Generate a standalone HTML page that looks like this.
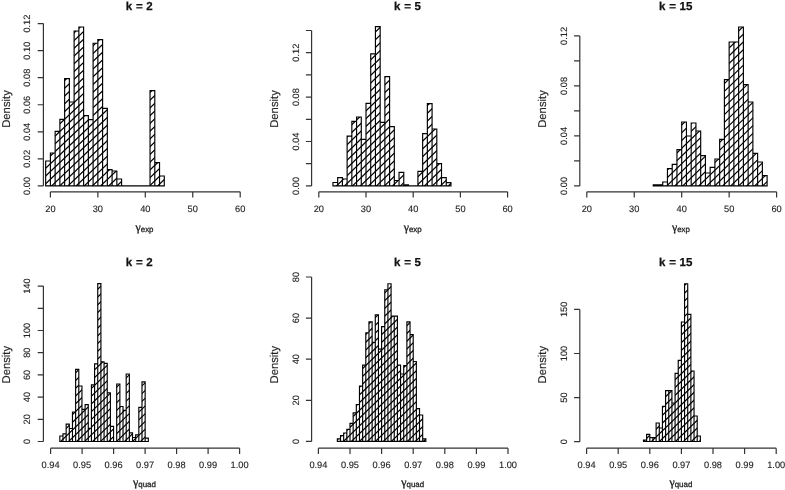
<!DOCTYPE html>
<html><head><meta charset="utf-8"><title>Histograms</title>
<style>
html,body{margin:0;padding:0;background:#fff;}
svg{display:block;}
#all{filter:blur(0.3px);}
text{font-family:"Liberation Sans",sans-serif;fill:#222;text-rendering:geometricPrecision;}
.t{font-size:9.25px;fill:#222;stroke:#222;stroke-width:0.12px;}
.l{font-size:11.3px;stroke:#222;stroke-width:0.15px;}
.ti{font-size:11.5px;font-weight:bold;fill:#111;stroke:#111;stroke-width:0.25px;word-spacing:0.5px;}
.g{font-family:"Liberation Serif",serif;font-size:11.865000000000002px;stroke-width:0.3px;}
.s{font-size:7.91px;stroke-width:0.28px;}
</style></head><body>
<svg width="785" height="490" viewBox="0 0 785 490">
<rect width="785" height="490" fill="#fff"/>
<defs><clipPath id="c0"><rect x="45.66" y="161.00" width="4.74" height="24.90"/><rect x="50.40" y="153.00" width="4.74" height="32.90"/><rect x="55.14" y="131.40" width="4.75" height="54.50"/><rect x="59.89" y="119.40" width="4.74" height="66.50"/><rect x="64.63" y="78.60" width="4.75" height="107.30"/><rect x="69.38" y="102.00" width="4.75" height="83.90"/><rect x="74.12" y="31.00" width="4.75" height="154.90"/><rect x="78.87" y="27.00" width="4.75" height="158.90"/><rect x="83.62" y="115.60" width="4.74" height="70.30"/><rect x="88.36" y="119.60" width="4.74" height="66.30"/><rect x="93.10" y="43.20" width="4.75" height="142.70"/><rect x="97.85" y="39.60" width="4.75" height="146.30"/><rect x="102.59" y="108.40" width="4.75" height="77.50"/><rect x="107.34" y="169.60" width="4.75" height="16.30"/><rect x="112.09" y="171.00" width="4.75" height="14.90"/><rect x="116.83" y="179.00" width="4.74" height="6.90"/><rect x="150.04" y="90.60" width="4.75" height="95.30"/><rect x="154.79" y="162.60" width="4.75" height="23.30"/><rect x="159.53" y="176.00" width="4.75" height="9.90"/></clipPath><clipPath id="c1"><rect x="332.96" y="182.45" width="4.72" height="3.45"/><rect x="337.68" y="177.56" width="4.72" height="8.34"/><rect x="342.40" y="179.01" width="4.72" height="6.89"/><rect x="347.12" y="136.05" width="4.72" height="49.85"/><rect x="351.84" y="121.40" width="4.72" height="64.50"/><rect x="356.56" y="116.96" width="4.72" height="68.94"/><rect x="361.28" y="139.38" width="4.72" height="46.52"/><rect x="366.00" y="103.42" width="4.72" height="82.48"/><rect x="370.72" y="53.91" width="4.72" height="131.99"/><rect x="375.44" y="26.60" width="4.72" height="159.30"/><rect x="380.16" y="122.40" width="4.72" height="63.50"/><rect x="384.88" y="76.55" width="4.72" height="109.35"/><rect x="389.60" y="126.62" width="4.72" height="59.28"/><rect x="394.32" y="180.45" width="4.72" height="5.45"/><rect x="399.04" y="172.40" width="4.72" height="13.50"/><rect x="403.76" y="184.89" width="4.72" height="1.01"/><rect x="417.92" y="171.35" width="4.72" height="14.55"/><rect x="422.64" y="133.61" width="4.72" height="52.29"/><rect x="427.36" y="103.64" width="4.72" height="82.26"/><rect x="432.08" y="128.95" width="4.72" height="56.95"/><rect x="436.80" y="163.58" width="4.72" height="22.32"/><rect x="441.52" y="177.56" width="4.72" height="8.34"/><rect x="446.24" y="182.67" width="4.72" height="3.23"/></clipPath><clipPath id="c2"><rect x="653.23" y="184.75" width="4.74" height="1.15"/><rect x="657.97" y="184.75" width="4.75" height="1.15"/><rect x="662.72" y="182.00" width="4.75" height="3.90"/><rect x="667.46" y="168.62" width="4.75" height="17.28"/><rect x="672.21" y="164.38" width="4.75" height="21.53"/><rect x="676.95" y="149.62" width="4.75" height="36.28"/><rect x="681.70" y="122.00" width="4.75" height="63.90"/><rect x="686.44" y="136.00" width="4.75" height="49.90"/><rect x="691.19" y="123.00" width="4.75" height="62.90"/><rect x="695.93" y="131.00" width="4.75" height="54.90"/><rect x="700.68" y="155.62" width="4.75" height="30.28"/><rect x="705.42" y="173.00" width="4.75" height="12.90"/><rect x="710.17" y="167.38" width="4.75" height="18.53"/><rect x="714.91" y="159.00" width="4.75" height="26.90"/><rect x="719.66" y="139.38" width="4.75" height="46.53"/><rect x="724.40" y="79.62" width="4.75" height="106.28"/><rect x="729.15" y="42.00" width="4.75" height="143.90"/><rect x="733.89" y="42.00" width="4.75" height="143.90"/><rect x="738.64" y="27.00" width="4.75" height="158.90"/><rect x="743.38" y="84.62" width="4.75" height="101.28"/><rect x="748.13" y="102.00" width="4.75" height="83.90"/><rect x="752.88" y="153.38" width="4.74" height="32.53"/><rect x="757.62" y="162.00" width="4.75" height="23.90"/><rect x="762.37" y="175.62" width="4.74" height="10.28"/></clipPath><clipPath id="c3"><rect x="59.83" y="435.95" width="3.16" height="5.55"/><rect x="62.99" y="433.84" width="3.16" height="7.66"/><rect x="66.15" y="424.07" width="3.16" height="17.43"/><rect x="69.31" y="428.51" width="3.16" height="12.99"/><rect x="72.47" y="411.97" width="3.16" height="29.53"/><rect x="75.63" y="369.35" width="3.16" height="72.15"/><rect x="78.79" y="386.00" width="3.16" height="55.50"/><rect x="81.95" y="409.31" width="3.16" height="32.19"/><rect x="85.11" y="404.65" width="3.16" height="36.85"/><rect x="88.27" y="428.40" width="3.16" height="13.10"/><rect x="91.43" y="384.89" width="3.16" height="56.61"/><rect x="94.59" y="363.91" width="3.16" height="77.59"/><rect x="97.75" y="283.66" width="3.16" height="157.84"/><rect x="100.91" y="361.91" width="3.16" height="79.59"/><rect x="104.07" y="363.36" width="3.16" height="78.14"/><rect x="107.23" y="392.88" width="3.16" height="48.62"/><rect x="110.39" y="426.40" width="3.16" height="15.10"/><rect x="116.71" y="384.00" width="3.16" height="57.50"/><rect x="119.87" y="406.54" width="3.16" height="34.96"/><rect x="123.03" y="410.42" width="3.16" height="31.08"/><rect x="126.19" y="374.01" width="3.16" height="67.49"/><rect x="129.35" y="432.84" width="3.16" height="8.66"/><rect x="132.51" y="437.50" width="3.16" height="4.00"/><rect x="135.67" y="434.84" width="3.16" height="6.66"/><rect x="138.83" y="407.42" width="3.16" height="34.08"/><rect x="141.99" y="381.89" width="3.16" height="59.61"/><rect x="145.15" y="438.17" width="3.16" height="3.33"/></clipPath><clipPath id="c4"><rect x="337.36" y="438.94" width="3.16" height="2.46"/><rect x="340.52" y="435.66" width="3.16" height="5.74"/><rect x="343.68" y="433.00" width="3.16" height="8.40"/><rect x="346.84" y="429.30" width="3.16" height="12.10"/><rect x="350.00" y="423.36" width="3.16" height="18.04"/><rect x="353.16" y="412.90" width="3.16" height="28.50"/><rect x="356.32" y="404.50" width="3.16" height="36.90"/><rect x="359.48" y="386.05" width="3.16" height="55.35"/><rect x="362.64" y="365.14" width="3.16" height="76.26"/><rect x="365.80" y="332.75" width="3.16" height="108.65"/><rect x="368.96" y="321.88" width="3.16" height="119.51"/><rect x="372.12" y="342.38" width="3.16" height="99.01"/><rect x="375.28" y="314.71" width="3.16" height="126.69"/><rect x="378.44" y="349.15" width="3.16" height="92.25"/><rect x="381.60" y="326.60" width="3.16" height="114.80"/><rect x="384.76" y="289.70" width="3.16" height="151.70"/><rect x="387.92" y="283.75" width="3.16" height="157.64"/><rect x="391.08" y="316.14" width="3.16" height="125.25"/><rect x="394.24" y="316.14" width="3.16" height="125.25"/><rect x="397.40" y="365.14" width="3.16" height="76.26"/><rect x="400.56" y="373.95" width="3.16" height="67.44"/><rect x="403.72" y="365.55" width="3.16" height="75.85"/><rect x="406.88" y="321.88" width="3.16" height="119.51"/><rect x="410.04" y="334.59" width="3.16" height="106.81"/><rect x="413.20" y="361.45" width="3.16" height="79.95"/><rect x="416.36" y="408.60" width="3.16" height="32.80"/><rect x="419.52" y="414.95" width="3.16" height="26.44"/><rect x="422.68" y="438.94" width="3.16" height="2.46"/></clipPath><clipPath id="c5"><rect x="643.48" y="440.00" width="3.16" height="1.50"/><rect x="646.64" y="434.39" width="3.16" height="7.11"/><rect x="649.80" y="437.63" width="3.16" height="3.87"/><rect x="652.96" y="437.63" width="3.16" height="3.87"/><rect x="656.12" y="423.00" width="3.16" height="18.50"/><rect x="659.28" y="428.00" width="3.16" height="13.50"/><rect x="662.44" y="406.36" width="3.16" height="35.14"/><rect x="665.60" y="390.59" width="3.16" height="50.91"/><rect x="668.76" y="390.59" width="3.16" height="50.91"/><rect x="671.92" y="403.03" width="3.16" height="38.47"/><rect x="675.08" y="373.42" width="3.16" height="68.08"/><rect x="678.24" y="360.37" width="3.16" height="81.13"/><rect x="681.40" y="322.00" width="3.16" height="119.50"/><rect x="684.56" y="283.72" width="3.16" height="157.78"/><rect x="687.72" y="314.38" width="3.16" height="127.12"/><rect x="690.88" y="370.97" width="3.16" height="70.53"/><rect x="694.04" y="416.00" width="3.16" height="25.50"/><rect x="697.20" y="435.97" width="3.16" height="5.53"/></clipPath></defs>
<g id="all">
<g><path clip-path="url(#c0)" d="M43.66 22.98L166.28 -93.52M43.66 30.73L166.28 -85.77M43.66 38.48L166.28 -78.02M43.66 46.23L166.28 -70.27M43.66 53.98L166.28 -62.52M43.66 61.73L166.28 -54.77M43.66 69.48L166.28 -47.02M43.66 77.23L166.28 -39.27M43.66 84.98L166.28 -31.52M43.66 92.73L166.28 -23.77M43.66 100.48L166.28 -16.02M43.66 108.23L166.28 -8.27M43.66 115.98L166.28 -0.52M43.66 123.73L166.28 7.23M43.66 131.48L166.28 14.98M43.66 139.23L166.28 22.73M43.66 146.98L166.28 30.48M43.66 154.73L166.28 38.23M43.66 162.48L166.28 45.98M43.66 170.23L166.28 53.73M43.66 177.98L166.28 61.48M43.66 185.73L166.28 69.23M43.66 193.48L166.28 76.98M43.66 201.23L166.28 84.73M43.66 208.98L166.28 92.48M43.66 216.73L166.28 100.23M43.66 224.48L166.28 107.98M43.66 232.23L166.28 115.73M43.66 239.98L166.28 123.48M43.66 247.73L166.28 131.23M43.66 255.48L166.28 138.98M43.66 263.23L166.28 146.73M43.66 270.98L166.28 154.48M43.66 278.73L166.28 162.23M43.66 286.48L166.28 169.98M43.66 294.23L166.28 177.73M43.66 301.98L166.28 185.48M43.66 309.73L166.28 193.23" fill="none" stroke="#000" stroke-width="1.22"/><path d="M45.66 161.00h4.74v24.90h-4.74zM50.40 153.00h4.74v32.90h-4.74zM55.14 131.40h4.75v54.50h-4.75zM59.89 119.40h4.74v66.50h-4.74zM64.63 78.60h4.75v107.30h-4.75zM69.38 102.00h4.75v83.90h-4.75zM74.12 31.00h4.75v154.90h-4.75zM78.87 27.00h4.75v158.90h-4.75zM83.62 115.60h4.74v70.30h-4.74zM88.36 119.60h4.74v66.30h-4.74zM93.10 43.20h4.75v142.70h-4.75zM97.85 39.60h4.75v146.30h-4.75zM102.59 108.40h4.75v77.50h-4.75zM107.34 169.60h4.75v16.30h-4.75zM112.09 171.00h4.75v14.90h-4.75zM116.83 179.00h4.74v6.90h-4.74zM121.57 185.90h4.75v0.00h-4.75zM126.32 185.90h4.75v0.00h-4.75zM131.06 185.90h4.75v0.00h-4.75zM135.81 185.90h4.75v0.00h-4.75zM140.56 185.90h4.75v0.00h-4.75zM145.30 185.90h4.74v0.00h-4.74zM150.04 90.60h4.75v95.30h-4.75zM154.79 162.60h4.75v23.30h-4.75zM159.53 176.00h4.75v9.90h-4.75z" fill="none" stroke="#000" stroke-width="1.15"/><path d="M43.40 185.90V23.60M43.40 185.90h-5.70M43.40 158.85h-5.70M43.40 131.80h-5.70M43.40 104.75h-5.70M43.40 77.70h-5.70M43.40 50.65h-5.70M43.40 23.60h-5.70M50.40 191.80H240.20M50.40 191.80v5.70M97.85 191.80v5.70M145.30 191.80v5.70M192.75 191.80v5.70M240.20 191.80v5.70" fill="none" stroke="#333" stroke-width="1.20"/><text class="t" text-anchor="middle" transform="translate(30.30 185.90) rotate(-90)">0.00</text><text class="t" text-anchor="middle" transform="translate(30.30 158.85) rotate(-90)">0.02</text><text class="t" text-anchor="middle" transform="translate(30.30 131.80) rotate(-90)">0.04</text><text class="t" text-anchor="middle" transform="translate(30.30 104.75) rotate(-90)">0.06</text><text class="t" text-anchor="middle" transform="translate(30.30 77.70) rotate(-90)">0.08</text><text class="t" text-anchor="middle" transform="translate(30.30 50.65) rotate(-90)">0.10</text><text class="t" text-anchor="middle" transform="translate(30.30 23.60) rotate(-90)">0.12</text><text class="t" text-anchor="middle" x="50.40" y="211.80">20</text><text class="t" text-anchor="middle" x="97.85" y="211.80">30</text><text class="t" text-anchor="middle" x="145.30" y="211.80">40</text><text class="t" text-anchor="middle" x="192.75" y="211.80">50</text><text class="t" text-anchor="middle" x="240.20" y="211.80">60</text><text class="ti" text-anchor="middle" x="139.30" y="10.40">k = 2</text><text class="l" text-anchor="middle" transform="translate(9.80 109.00) rotate(-90)">Density</text><text class="l" text-anchor="middle" x="144.50" y="230.60"><tspan class="g">γ</tspan><tspan class="s" dy="1.6">exp</tspan></text></g>
<g><path clip-path="url(#c1)" d="M330.96 20.82L452.96 -97.52M330.96 28.57L452.96 -89.77M330.96 36.32L452.96 -82.02M330.96 44.07L452.96 -74.27M330.96 51.82L452.96 -66.52M330.96 59.57L452.96 -58.77M330.96 67.32L452.96 -51.02M330.96 75.07L452.96 -43.27M330.96 82.82L452.96 -35.52M330.96 90.57L452.96 -27.77M330.96 98.32L452.96 -20.02M330.96 106.07L452.96 -12.27M330.96 113.82L452.96 -4.52M330.96 121.57L452.96 3.23M330.96 129.32L452.96 10.98M330.96 137.07L452.96 18.73M330.96 144.82L452.96 26.48M330.96 152.57L452.96 34.23M330.96 160.32L452.96 41.98M330.96 168.07L452.96 49.73M330.96 175.82L452.96 57.48M330.96 183.57L452.96 65.23M330.96 191.32L452.96 72.98M330.96 199.07L452.96 80.73M330.96 206.82L452.96 88.48M330.96 214.57L452.96 96.23M330.96 222.32L452.96 103.98M330.96 230.07L452.96 111.73M330.96 237.82L452.96 119.48M330.96 245.57L452.96 127.23M330.96 253.32L452.96 134.98M330.96 261.07L452.96 142.73M330.96 268.82L452.96 150.48M330.96 276.57L452.96 158.23M330.96 284.32L452.96 165.98M330.96 292.07L452.96 173.73M330.96 299.82L452.96 181.48M330.96 307.57L452.96 189.23" fill="none" stroke="#000" stroke-width="1.22"/><path d="M332.96 182.45h4.72v3.45h-4.72zM337.68 177.56h4.72v8.34h-4.72zM342.40 179.01h4.72v6.89h-4.72zM347.12 136.05h4.72v49.85h-4.72zM351.84 121.40h4.72v64.50h-4.72zM356.56 116.96h4.72v68.94h-4.72zM361.28 139.38h4.72v46.52h-4.72zM366.00 103.42h4.72v82.48h-4.72zM370.72 53.91h4.72v131.99h-4.72zM375.44 26.60h4.72v159.30h-4.72zM380.16 122.40h4.72v63.50h-4.72zM384.88 76.55h4.72v109.35h-4.72zM389.60 126.62h4.72v59.28h-4.72zM394.32 180.45h4.72v5.45h-4.72zM399.04 172.40h4.72v13.50h-4.72zM403.76 184.89h4.72v1.01h-4.72zM408.48 185.90h4.72v0.00h-4.72zM413.20 185.90h4.72v0.00h-4.72zM417.92 171.35h4.72v14.55h-4.72zM422.64 133.61h4.72v52.29h-4.72zM427.36 103.64h4.72v82.26h-4.72zM432.08 128.95h4.72v56.95h-4.72zM436.80 163.58h4.72v22.32h-4.72zM441.52 177.56h4.72v8.34h-4.72zM446.24 182.67h4.72v3.23h-4.72z" fill="none" stroke="#000" stroke-width="1.15"/><path d="M311.60 185.90V30.50M311.60 185.90h-5.70M311.60 163.70h-5.70M311.60 141.50h-5.70M311.60 119.30h-5.70M311.60 97.10h-5.70M311.60 74.90h-5.70M311.60 52.70h-5.70M311.60 30.50h-5.70M318.80 191.80H507.60M318.80 191.80v5.70M366.00 191.80v5.70M413.20 191.80v5.70M460.40 191.80v5.70M507.60 191.80v5.70" fill="none" stroke="#333" stroke-width="1.20"/><text class="t" text-anchor="middle" transform="translate(298.50 185.90) rotate(-90)">0.00</text><text class="t" text-anchor="middle" transform="translate(298.50 141.50) rotate(-90)">0.04</text><text class="t" text-anchor="middle" transform="translate(298.50 97.10) rotate(-90)">0.08</text><text class="t" text-anchor="middle" transform="translate(298.50 52.70) rotate(-90)">0.12</text><text class="t" text-anchor="middle" x="318.80" y="211.80">20</text><text class="t" text-anchor="middle" x="366.00" y="211.80">30</text><text class="t" text-anchor="middle" x="413.20" y="211.80">40</text><text class="t" text-anchor="middle" x="460.40" y="211.80">50</text><text class="t" text-anchor="middle" x="507.60" y="211.80">60</text><text class="ti" text-anchor="middle" x="407.50" y="10.40">k = 5</text><text class="l" text-anchor="middle" transform="translate(278.00 109.00) rotate(-90)">Density</text><text class="l" text-anchor="middle" x="412.70" y="230.60"><tspan class="g">γ</tspan><tspan class="s" dy="1.6">exp</tspan></text></g>
<g><path clip-path="url(#c2)" d="M651.23 22.76L769.11 -91.58M651.23 30.51L769.11 -83.83M651.23 38.26L769.11 -76.08M651.23 46.01L769.11 -68.33M651.23 53.76L769.11 -60.58M651.23 61.51L769.11 -52.83M651.23 69.26L769.11 -45.08M651.23 77.01L769.11 -37.33M651.23 84.76L769.11 -29.58M651.23 92.51L769.11 -21.83M651.23 100.26L769.11 -14.08M651.23 108.01L769.11 -6.33M651.23 115.76L769.11 1.42M651.23 123.51L769.11 9.17M651.23 131.26L769.11 16.92M651.23 139.01L769.11 24.67M651.23 146.76L769.11 32.42M651.23 154.51L769.11 40.17M651.23 162.26L769.11 47.92M651.23 170.01L769.11 55.67M651.23 177.76L769.11 63.42M651.23 185.51L769.11 71.17M651.23 193.26L769.11 78.92M651.23 201.01L769.11 86.67M651.23 208.76L769.11 94.42M651.23 216.51L769.11 102.17M651.23 224.26L769.11 109.92M651.23 232.01L769.11 117.67M651.23 239.76L769.11 125.42M651.23 247.51L769.11 133.17M651.23 255.26L769.11 140.92M651.23 263.01L769.11 148.67M651.23 270.76L769.11 156.42M651.23 278.51L769.11 164.17M651.23 286.26L769.11 171.92M651.23 294.01L769.11 179.67M651.23 301.76L769.11 187.42M651.23 309.51L769.11 195.17" fill="none" stroke="#000" stroke-width="1.22"/><path d="M653.23 184.75h4.74v1.15h-4.74zM657.97 184.75h4.75v1.15h-4.75zM662.72 182.00h4.75v3.90h-4.75zM667.46 168.62h4.75v17.28h-4.75zM672.21 164.38h4.75v21.53h-4.75zM676.95 149.62h4.75v36.28h-4.75zM681.70 122.00h4.75v63.90h-4.75zM686.44 136.00h4.75v49.90h-4.75zM691.19 123.00h4.75v62.90h-4.75zM695.93 131.00h4.75v54.90h-4.75zM700.68 155.62h4.75v30.28h-4.75zM705.42 173.00h4.75v12.90h-4.75zM710.17 167.38h4.75v18.53h-4.75zM714.91 159.00h4.75v26.90h-4.75zM719.66 139.38h4.75v46.53h-4.75zM724.40 79.62h4.75v106.28h-4.75zM729.15 42.00h4.75v143.90h-4.75zM733.89 42.00h4.75v143.90h-4.75zM738.64 27.00h4.75v158.90h-4.75zM743.38 84.62h4.75v101.28h-4.75zM748.13 102.00h4.75v83.90h-4.75zM752.88 153.38h4.74v32.53h-4.74zM757.62 162.00h4.75v23.90h-4.75zM762.37 175.62h4.74v10.28h-4.74z" fill="none" stroke="#000" stroke-width="1.15"/><path d="M579.80 185.90V35.90M579.80 185.90h-5.70M579.80 160.90h-5.70M579.80 135.90h-5.70M579.80 110.90h-5.70M579.80 85.90h-5.70M579.80 60.90h-5.70M579.80 35.90h-5.70M586.80 191.80H776.60M586.80 191.80v5.70M634.25 191.80v5.70M681.70 191.80v5.70M729.15 191.80v5.70M776.60 191.80v5.70" fill="none" stroke="#333" stroke-width="1.20"/><text class="t" text-anchor="middle" transform="translate(566.70 185.90) rotate(-90)">0.00</text><text class="t" text-anchor="middle" transform="translate(566.70 135.90) rotate(-90)">0.04</text><text class="t" text-anchor="middle" transform="translate(566.70 85.90) rotate(-90)">0.08</text><text class="t" text-anchor="middle" transform="translate(566.70 35.90) rotate(-90)">0.12</text><text class="t" text-anchor="middle" x="586.80" y="211.80">20</text><text class="t" text-anchor="middle" x="634.25" y="211.80">30</text><text class="t" text-anchor="middle" x="681.70" y="211.80">40</text><text class="t" text-anchor="middle" x="729.15" y="211.80">50</text><text class="t" text-anchor="middle" x="776.60" y="211.80">60</text><text class="ti" text-anchor="middle" x="675.70" y="10.40">k = 15</text><text class="l" text-anchor="middle" transform="translate(546.20 109.00) rotate(-90)">Density</text><text class="l" text-anchor="middle" x="680.90" y="230.60"><tspan class="g">γ</tspan><tspan class="s" dy="1.6">exp</tspan></text></g>
<g><path clip-path="url(#c3)" d="M57.83 281.45L150.31 191.75M57.83 289.20L150.31 199.50M57.83 296.95L150.31 207.25M57.83 304.70L150.31 215.00M57.83 312.45L150.31 222.75M57.83 320.20L150.31 230.50M57.83 327.95L150.31 238.25M57.83 335.70L150.31 246.00M57.83 343.45L150.31 253.75M57.83 351.20L150.31 261.50M57.83 358.95L150.31 269.25M57.83 366.70L150.31 277.00M57.83 374.45L150.31 284.75M57.83 382.20L150.31 292.50M57.83 389.95L150.31 300.25M57.83 397.70L150.31 308.00M57.83 405.45L150.31 315.75M57.83 413.20L150.31 323.50M57.83 420.95L150.31 331.25M57.83 428.70L150.31 339.00M57.83 436.45L150.31 346.75M57.83 444.20L150.31 354.50M57.83 451.95L150.31 362.25M57.83 459.70L150.31 370.00M57.83 467.45L150.31 377.75M57.83 475.20L150.31 385.50M57.83 482.95L150.31 393.25M57.83 490.70L150.31 401.00M57.83 498.45L150.31 408.75M57.83 506.20L150.31 416.50M57.83 513.95L150.31 424.25M57.83 521.70L150.31 432.00M57.83 529.45L150.31 439.75M57.83 537.20L150.31 447.50" fill="none" stroke="#000" stroke-width="1.22"/><path d="M59.83 435.95h3.16v5.55h-3.16zM62.99 433.84h3.16v7.66h-3.16zM66.15 424.07h3.16v17.43h-3.16zM69.31 428.51h3.16v12.99h-3.16zM72.47 411.97h3.16v29.53h-3.16zM75.63 369.35h3.16v72.15h-3.16zM78.79 386.00h3.16v55.50h-3.16zM81.95 409.31h3.16v32.19h-3.16zM85.11 404.65h3.16v36.85h-3.16zM88.27 428.40h3.16v13.10h-3.16zM91.43 384.89h3.16v56.61h-3.16zM94.59 363.91h3.16v77.59h-3.16zM97.75 283.66h3.16v157.84h-3.16zM100.91 361.91h3.16v79.59h-3.16zM104.07 363.36h3.16v78.14h-3.16zM107.23 392.88h3.16v48.62h-3.16zM110.39 426.40h3.16v15.10h-3.16zM113.55 441.50h3.16v0.00h-3.16zM116.71 384.00h3.16v57.50h-3.16zM119.87 406.54h3.16v34.96h-3.16zM123.03 410.42h3.16v31.08h-3.16zM126.19 374.01h3.16v67.49h-3.16zM129.35 432.84h3.16v8.66h-3.16zM132.51 437.50h3.16v4.00h-3.16zM135.67 434.84h3.16v6.66h-3.16zM138.83 407.42h3.16v34.08h-3.16zM141.99 381.89h3.16v59.61h-3.16zM145.15 438.17h3.16v3.33h-3.16z" fill="none" stroke="#000" stroke-width="1.15"/><path d="M43.40 441.50V286.10M43.40 441.50h-5.70M43.40 419.30h-5.70M43.40 397.10h-5.70M43.40 374.90h-5.70M43.40 352.70h-5.70M43.40 330.50h-5.70M43.40 308.30h-5.70M43.40 286.10h-5.70M50.60 448.20H239.60M50.60 448.20v5.70M82.10 448.20v5.70M113.60 448.20v5.70M145.10 448.20v5.70M176.60 448.20v5.70M208.10 448.20v5.70M239.60 448.20v5.70" fill="none" stroke="#333" stroke-width="1.20"/><text class="t" text-anchor="middle" transform="translate(30.30 441.50) rotate(-90)">0</text><text class="t" text-anchor="middle" transform="translate(30.30 419.30) rotate(-90)">20</text><text class="t" text-anchor="middle" transform="translate(30.30 397.10) rotate(-90)">40</text><text class="t" text-anchor="middle" transform="translate(30.30 374.90) rotate(-90)">60</text><text class="t" text-anchor="middle" transform="translate(30.30 352.70) rotate(-90)">80</text><text class="t" text-anchor="middle" transform="translate(30.30 330.50) rotate(-90)">100</text><text class="t" text-anchor="middle" transform="translate(30.30 286.10) rotate(-90)">140</text><text class="t" text-anchor="middle" x="50.60" y="467.60">0.94</text><text class="t" text-anchor="middle" x="82.10" y="467.60">0.95</text><text class="t" text-anchor="middle" x="113.60" y="467.60">0.96</text><text class="t" text-anchor="middle" x="145.10" y="467.60">0.97</text><text class="t" text-anchor="middle" x="176.60" y="467.60">0.98</text><text class="t" text-anchor="middle" x="208.10" y="467.60">0.99</text><text class="t" text-anchor="middle" x="239.60" y="467.60">1.00</text><text class="ti" text-anchor="middle" x="139.30" y="266.40">k = 2</text><text class="l" text-anchor="middle" transform="translate(9.80 364.70) rotate(-90)">Density</text><text class="l" text-anchor="middle" x="144.50" y="485.50"><tspan class="g">γ</tspan><tspan class="s" dy="1.6">quad</tspan></text></g>
<g><path clip-path="url(#c4)" d="M335.36 278.75L427.84 189.05M335.36 286.50L427.84 196.80M335.36 294.25L427.84 204.55M335.36 302.00L427.84 212.30M335.36 309.75L427.84 220.05M335.36 317.50L427.84 227.80M335.36 325.25L427.84 235.55M335.36 333.00L427.84 243.30M335.36 340.75L427.84 251.05M335.36 348.50L427.84 258.80M335.36 356.25L427.84 266.55M335.36 364.00L427.84 274.30M335.36 371.75L427.84 282.05M335.36 379.50L427.84 289.80M335.36 387.25L427.84 297.55M335.36 395.00L427.84 305.30M335.36 402.75L427.84 313.05M335.36 410.50L427.84 320.80M335.36 418.25L427.84 328.55M335.36 426.00L427.84 336.30M335.36 433.75L427.84 344.05M335.36 441.50L427.84 351.80M335.36 449.25L427.84 359.55M335.36 457.00L427.84 367.30M335.36 464.75L427.84 375.05M335.36 472.50L427.84 382.80M335.36 480.25L427.84 390.55M335.36 488.00L427.84 398.30M335.36 495.75L427.84 406.05M335.36 503.50L427.84 413.80M335.36 511.25L427.84 421.55M335.36 519.00L427.84 429.30M335.36 526.75L427.84 437.05M335.36 534.50L427.84 444.80" fill="none" stroke="#000" stroke-width="1.22"/><path d="M337.36 438.94h3.16v2.46h-3.16zM340.52 435.66h3.16v5.74h-3.16zM343.68 433.00h3.16v8.40h-3.16zM346.84 429.30h3.16v12.10h-3.16zM350.00 423.36h3.16v18.04h-3.16zM353.16 412.90h3.16v28.50h-3.16zM356.32 404.50h3.16v36.90h-3.16zM359.48 386.05h3.16v55.35h-3.16zM362.64 365.14h3.16v76.26h-3.16zM365.80 332.75h3.16v108.65h-3.16zM368.96 321.88h3.16v119.51h-3.16zM372.12 342.38h3.16v99.01h-3.16zM375.28 314.71h3.16v126.69h-3.16zM378.44 349.15h3.16v92.25h-3.16zM381.60 326.60h3.16v114.80h-3.16zM384.76 289.70h3.16v151.70h-3.16zM387.92 283.75h3.16v157.64h-3.16zM391.08 316.14h3.16v125.25h-3.16zM394.24 316.14h3.16v125.25h-3.16zM397.40 365.14h3.16v76.26h-3.16zM400.56 373.95h3.16v67.44h-3.16zM403.72 365.55h3.16v75.85h-3.16zM406.88 321.88h3.16v119.51h-3.16zM410.04 334.59h3.16v106.81h-3.16zM413.20 361.45h3.16v79.95h-3.16zM416.36 408.60h3.16v32.80h-3.16zM419.52 414.95h3.16v26.44h-3.16zM422.68 438.94h3.16v2.46h-3.16z" fill="none" stroke="#000" stroke-width="1.15"/><path d="M311.60 441.40V277.00M311.60 441.40h-5.70M311.60 400.30h-5.70M311.60 359.20h-5.70M311.60 318.10h-5.70M311.60 277.00h-5.70M318.40 448.20H508.00M318.40 448.20v5.70M350.00 448.20v5.70M381.60 448.20v5.70M413.20 448.20v5.70M444.80 448.20v5.70M476.40 448.20v5.70M508.00 448.20v5.70" fill="none" stroke="#333" stroke-width="1.20"/><text class="t" text-anchor="middle" transform="translate(298.50 441.40) rotate(-90)">0</text><text class="t" text-anchor="middle" transform="translate(298.50 400.30) rotate(-90)">20</text><text class="t" text-anchor="middle" transform="translate(298.50 359.20) rotate(-90)">40</text><text class="t" text-anchor="middle" transform="translate(298.50 318.10) rotate(-90)">60</text><text class="t" text-anchor="middle" transform="translate(298.50 277.00) rotate(-90)">80</text><text class="t" text-anchor="middle" x="318.40" y="467.60">0.94</text><text class="t" text-anchor="middle" x="350.00" y="467.60">0.95</text><text class="t" text-anchor="middle" x="381.60" y="467.60">0.96</text><text class="t" text-anchor="middle" x="413.20" y="467.60">0.97</text><text class="t" text-anchor="middle" x="444.80" y="467.60">0.98</text><text class="t" text-anchor="middle" x="476.40" y="467.60">0.99</text><text class="t" text-anchor="middle" x="508.00" y="467.60">1.00</text><text class="ti" text-anchor="middle" x="407.50" y="266.40">k = 5</text><text class="l" text-anchor="middle" transform="translate(278.00 364.70) rotate(-90)">Density</text><text class="l" text-anchor="middle" x="412.70" y="485.50"><tspan class="g">γ</tspan><tspan class="s" dy="1.6">quad</tspan></text></g>
<g><path clip-path="url(#c5)" d="M641.48 280.67L702.36 221.62M641.48 288.42L702.36 229.37M641.48 296.17L702.36 237.12M641.48 303.92L702.36 244.87M641.48 311.67L702.36 252.62M641.48 319.42L702.36 260.37M641.48 327.17L702.36 268.12M641.48 334.92L702.36 275.87M641.48 342.67L702.36 283.62M641.48 350.42L702.36 291.37M641.48 358.17L702.36 299.12M641.48 365.92L702.36 306.87M641.48 373.67L702.36 314.62M641.48 381.42L702.36 322.37M641.48 389.17L702.36 330.12M641.48 396.92L702.36 337.87M641.48 404.67L702.36 345.62M641.48 412.42L702.36 353.37M641.48 420.17L702.36 361.12M641.48 427.92L702.36 368.87M641.48 435.67L702.36 376.62M641.48 443.42L702.36 384.37M641.48 451.17L702.36 392.12M641.48 458.92L702.36 399.87M641.48 466.67L702.36 407.62M641.48 474.42L702.36 415.37M641.48 482.17L702.36 423.12M641.48 489.92L702.36 430.87M641.48 497.67L702.36 438.62M641.48 505.42L702.36 446.37" fill="none" stroke="#000" stroke-width="1.22"/><path d="M643.48 440.00h3.16v1.50h-3.16zM646.64 434.39h3.16v7.11h-3.16zM649.80 437.63h3.16v3.87h-3.16zM652.96 437.63h3.16v3.87h-3.16zM656.12 423.00h3.16v18.50h-3.16zM659.28 428.00h3.16v13.50h-3.16zM662.44 406.36h3.16v35.14h-3.16zM665.60 390.59h3.16v50.91h-3.16zM668.76 390.59h3.16v50.91h-3.16zM671.92 403.03h3.16v38.47h-3.16zM675.08 373.42h3.16v68.08h-3.16zM678.24 360.37h3.16v81.13h-3.16zM681.40 322.00h3.16v119.50h-3.16zM684.56 283.72h3.16v157.78h-3.16zM687.72 314.38h3.16v127.12h-3.16zM690.88 370.97h3.16v70.53h-3.16zM694.04 416.00h3.16v25.50h-3.16zM697.20 435.97h3.16v5.53h-3.16z" fill="none" stroke="#000" stroke-width="1.15"/><path d="M579.80 441.70V309.40M579.80 441.70h-5.70M579.80 397.60h-5.70M579.80 353.50h-5.70M579.80 309.40h-5.70M586.60 448.20H776.20M586.60 448.20v5.70M618.20 448.20v5.70M649.80 448.20v5.70M681.40 448.20v5.70M713.00 448.20v5.70M744.60 448.20v5.70M776.20 448.20v5.70" fill="none" stroke="#333" stroke-width="1.20"/><text class="t" text-anchor="middle" transform="translate(566.70 441.70) rotate(-90)">0</text><text class="t" text-anchor="middle" transform="translate(566.70 397.60) rotate(-90)">50</text><text class="t" text-anchor="middle" transform="translate(566.70 353.50) rotate(-90)">100</text><text class="t" text-anchor="middle" transform="translate(566.70 309.40) rotate(-90)">150</text><text class="t" text-anchor="middle" x="586.60" y="467.60">0.94</text><text class="t" text-anchor="middle" x="618.20" y="467.60">0.95</text><text class="t" text-anchor="middle" x="649.80" y="467.60">0.96</text><text class="t" text-anchor="middle" x="681.40" y="467.60">0.97</text><text class="t" text-anchor="middle" x="713.00" y="467.60">0.98</text><text class="t" text-anchor="middle" x="744.60" y="467.60">0.99</text><text class="t" text-anchor="middle" x="776.20" y="467.60">1.00</text><text class="ti" text-anchor="middle" x="675.70" y="266.40">k = 15</text><text class="l" text-anchor="middle" transform="translate(546.20 364.70) rotate(-90)">Density</text><text class="l" text-anchor="middle" x="680.90" y="485.50"><tspan class="g">γ</tspan><tspan class="s" dy="1.6">quad</tspan></text></g>
</g>
</svg>
</body></html>
